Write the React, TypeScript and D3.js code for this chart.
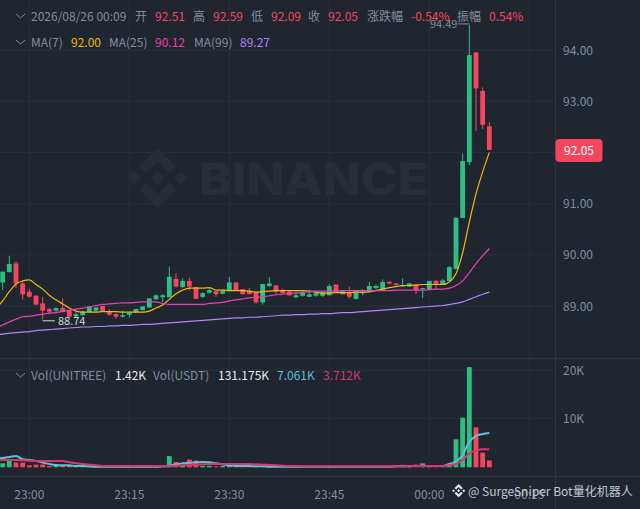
import * as React from 'react'
import * as d3 from 'd3'

const BG = '#1f2630'
const GRID = '#29303a'
const TXT = '#848e9c'
const UP = '#2ebd85'
const DOWN = '#f6465d'
const FONT = '"Noto Sans CJK SC", "Noto Sans", sans-serif'

// one candle per minute, 22:55 (just off the left edge) to 00:09
const opens = [89.30,
  89.46, 89.66, 89.83, 89.44, 89.28, 89.20, 89.05, 88.94, 88.91, 88.96,
  88.92, 88.80, 88.82, 88.88, 88.91, 89.00, 88.89, 88.84, 88.79, 88.83,
  88.88, 88.92, 88.97, 89.13, 89.17, 89.17, 89.53, 89.37, 89.49, 89.37,
  89.18, 89.26, 89.29, 89.24, 89.31, 89.46, 89.33, 89.30, 89.27, 89.07,
  89.39, 89.40, 89.31, 89.28, 89.17, 89.20, 89.18, 89.20, 89.20, 89.21,
  89.42, 89.23, 89.26, 89.14, 89.25, 89.27, 89.35, 89.31, 89.47, 89.44,
  89.38, 89.38, 89.42, 89.33, 89.33, 89.49, 89.42, 89.49, 89.72, 90.72,
  91.81, 93.95, 93.20, 92.51]
const closes = [89.46,
  89.67, 89.82, 89.44, 89.23, 89.18, 89.03, 88.91, 88.89, 88.96, 88.88,
  88.79, 88.84, 88.89, 88.99, 88.97, 88.90, 88.83, 88.79, 88.82, 88.87,
  88.94, 88.99, 89.15, 89.21, 89.21, 89.57, 89.38, 89.49, 89.38, 89.14,
  89.25, 89.31, 89.23, 89.29, 89.46, 89.31, 89.23, 89.23, 89.07, 89.43,
  89.44, 89.28, 89.25, 89.21, 89.21, 89.26, 89.23, 89.25, 89.27, 89.39,
  89.27, 89.29, 89.18, 89.29, 89.28, 89.39, 89.39, 89.47, 89.44, 89.41,
  89.41, 89.44, 89.31, 89.35, 89.49, 89.43, 89.50, 89.76, 90.72, 91.83,
  93.90, 93.25, 92.54, 92.05]
const highs = [89.48,
  89.67, 89.98, 89.87, 89.49, 89.33, 89.21, 89.18, 88.96, 88.97, 89.15,
  88.92, 88.89, 88.91, 89.00, 88.99, 89.00, 88.94, 88.86, 88.91, 88.88,
  88.95, 89.00, 89.15, 89.23, 89.23, 89.77, 89.64, 89.54, 89.55, 89.37,
  89.27, 89.35, 89.29, 89.33, 89.57, 89.46, 89.33, 89.35, 89.28, 89.43,
  89.56, 89.41, 89.34, 89.30, 89.31, 89.30, 89.31, 89.28, 89.29, 89.43,
  89.42, 89.31, 89.38, 89.29, 89.33, 89.47, 89.42, 89.52, 89.49, 89.45,
  89.54, 89.45, 89.43, 89.35, 89.49, 89.51, 89.53, 89.78, 90.74, 91.98,
  94.49, 93.96, 93.27, 92.59]
const lows = [89.25,
  89.31, 89.66, 89.35, 89.13, 89.17, 89.01, 88.74, 88.84, 88.88, 88.88,
  88.76, 88.78, 88.81, 88.87, 88.87, 88.90, 88.81, 88.75, 88.78, 88.78,
  88.88, 88.91, 88.97, 89.12, 89.08, 89.17, 89.35, 89.35, 89.30, 89.14,
  89.16, 89.26, 89.18, 89.23, 89.29, 89.31, 89.23, 89.23, 89.05, 89.03,
  89.37, 89.23, 89.23, 89.20, 89.16, 89.18, 89.18, 89.18, 89.18, 89.21,
  89.27, 89.23, 89.14, 89.12, 89.21, 89.26, 89.33, 89.29, 89.42, 89.40,
  89.37, 89.37, 89.23, 89.16, 89.32, 89.33, 89.41, 89.47, 89.72, 90.72,
  91.75, 92.42, 92.46, 92.05]
const volumes = [700,
  820, 1500, 960, 960, 410, 550, 550, 270, 270, 270,
  270, 150, 180, 150, 120, 200, 150, 120, 120, 100,
  100, 90, 110, 120, 130, 2300, 1100, 270, 1600, 1400,
  300, 300, 200, 300, 400, 300, 250, 180, 250, 350,
  120, 110, 90, 100, 110, 90, 80, 120, 90, 120,
  100, 90, 100, 140, 90, 130, 110, 130, 100, 90,
  500, 100, 550, 800, 300, 240, 180, 600, 5750, 10200,
  20600, 8200, 3000, 1420]
const ma7 = [88.95,
  89.10, 89.28, 89.43, 89.49, 89.51, 89.42, 89.33, 89.21, 89.12, 89.04,
  88.96, 88.90, 88.88, 88.88, 88.88, 88.89, 88.89, 88.89, 88.88, 88.88,
  88.88, 88.88, 88.90, 88.96, 89.02, 89.13, 89.24, 89.31, 89.35, 89.35,
  89.35, 89.36, 89.31, 89.31, 89.30, 89.30, 89.30, 89.29, 89.27, 89.28,
  89.29, 89.30, 89.30, 89.30, 89.30, 89.30, 89.29, 89.27, 89.25, 89.25,
  89.26, 89.26, 89.26, 89.27, 89.27, 89.28, 89.30, 89.33, 89.36, 89.38,
  89.40, 89.40, 89.41, 89.42, 89.42, 89.42, 89.42, 89.47, 89.63, 90.04,
  90.64, 91.19, 91.62, 92.00]
const ma25 = [88.58,
  88.63, 88.69, 88.74, 88.79, 88.80, 88.82, 88.84, 88.86, 88.87, 88.90,
  88.92, 88.94, 88.96, 88.98, 89.01, 89.03, 89.04, 89.05, 89.06, 89.06,
  89.07, 89.08, 89.08, 89.08, 89.05, 89.03, 89.03, 89.03, 89.03, 89.03,
  89.03, 89.05, 89.06, 89.07, 89.10, 89.12, 89.14, 89.16, 89.17, 89.18,
  89.20, 89.22, 89.23, 89.25, 89.25, 89.27, 89.28, 89.29, 89.29, 89.29,
  89.29, 89.30, 89.30, 89.30, 89.30, 89.30, 89.30, 89.30, 89.30, 89.31,
  89.31, 89.31, 89.31, 89.31, 89.32, 89.33, 89.33, 89.35, 89.40, 89.49,
  89.65, 89.83, 89.98, 90.12]
const ma99 = [88.44,
  88.45, 88.47, 88.48, 88.49, 88.50, 88.52, 88.53, 88.54, 88.55, 88.56,
  88.57, 88.58, 88.59, 88.59, 88.60, 88.60, 88.61, 88.61, 88.62, 88.62,
  88.63, 88.64, 88.64, 88.65, 88.66, 88.67, 88.68, 88.69, 88.70, 88.71,
  88.72, 88.73, 88.74, 88.75, 88.76, 88.77, 88.77, 88.78, 88.78, 88.79,
  88.80, 88.81, 88.82, 88.82, 88.83, 88.83, 88.84, 88.84, 88.85, 88.85,
  88.86, 88.87, 88.87, 88.88, 88.89, 88.90, 88.91, 88.92, 88.93, 88.94,
  88.95, 88.96, 88.97, 88.98, 88.99, 89.00, 89.01, 89.03, 89.05, 89.08,
  89.13, 89.18, 89.23, 89.27]
const volShort = [1800,
  1918, 2120, 2330, 1640, 1500, 1300, 960, 685, 480, 410,
  410, 270, 270, 205, 137, 137, 137, 137, 137, 137,
  137, 137, 137, 137, 200, 270, 620, 820, 960, 1030,
  1100, 1030, 820, 620, 410, 270, 270, 270, 205, 205,
  137, 137, 137, 137, 137, 137, 137, 137, 137, 137,
  137, 137, 137, 137, 137, 137, 137, 137, 137, 200,
  240, 240, 270, 270, 270, 270, 270, 685, 1160, 2530,
  5270, 6440, 6850, 7061]
const volLong = [1500,
  1500, 1500, 1500, 1440, 1370, 1300, 1300, 1300, 1300, 1300,
  1030, 820, 685, 550, 410, 270, 270, 270, 270, 270,
  270, 270, 270, 270, 270, 270, 340, 410, 480, 550,
  620, 685, 685, 685, 685, 685, 685, 685, 620, 550,
  480, 410, 340, 270, 270, 240, 205, 205, 205, 205,
  205, 205, 205, 205, 205, 205, 205, 205, 205, 205,
  240, 240, 270, 270, 270, 270, 270, 410, 685, 1500,
  2880, 3425, 3700, 3712]

const priceTicks = [94, 93, 92, 91, 90, 89]
const volTicks = [20000, 10000]
const timeTickIndex = [5, 20, 35, 50, 65, 80]
const timeTickLabels = ['23:00', '23:15', '23:30', '23:45', '00:00', '00:15']

const headerRow = [
  { t: '2026/08/26 00:09', x: 31, c: TXT },
  { t: '开', x: 135, c: TXT },
  { t: '92.51', x: 155, c: DOWN },
  { t: '高', x: 193, c: TXT },
  { t: '92.59', x: 213, c: DOWN },
  { t: '低', x: 251, c: TXT },
  { t: '92.09', x: 271, c: DOWN },
  { t: '收', x: 308, c: TXT },
  { t: '92.05', x: 328, c: DOWN },
  { t: '涨跌幅', x: 367, c: TXT },
  { t: '-0.54%', x: 411, c: DOWN },
  { t: '振幅', x: 457, c: TXT },
  { t: '0.54%', x: 489, c: DOWN },
]
const maRow = [
  { t: 'MA(7)', x: 31, c: TXT },
  { t: '92.00', x: 71, c: '#f0b90b' },
  { t: 'MA(25)', x: 109, c: TXT },
  { t: '90.12', x: 155, c: '#eb40b5' },
  { t: 'MA(99)', x: 194, c: TXT },
  { t: '89.27', x: 240, c: '#b385f8' },
]
const volRow = [
  { t: 'Vol(UNITREE)', x: 31, c: TXT },
  { t: '1.42K', x: 115, c: '#eaecef' },
  { t: 'Vol(USDT)', x: 153, c: TXT },
  { t: '131.175K', x: 218, c: '#eaecef' },
  { t: '7.061K', x: 277, c: '#5bc2d8' },
  { t: '3.712K', x: 323, c: '#d9386e' },
]

const LOGO =
  'M38.73 53.2l24.59-24.58 24.6 24.6 14.3-14.31L63.32 0 24.43 38.9l14.3 14.3zM0 63.31l14.3-14.31 14.31 14.31-14.31 14.3zM38.73 73.41l24.59 24.59 24.6-24.6 14.31 14.29-38.9 38.91-38.91-38.88v-.03zM97.99 63.31l14.3-14.3 14.32 14.3-14.31 14.3zM77.83 63.3L63.32 48.78 52.59 59.51l-1.24 1.23-2.54 2.54 14.51 14.5 14.51-14.47z'

const x = d3.scaleLinear().domain([0, 74]).range([-4, 489.33])
const y = d3.scaleLinear().domain([94, 89]).range([50, 306])
const yVol = d3.scaleLinear().domain([0, 20000]).range([467.3, 370])

function Row({ items, top }: { items: { t: string; x: number; c: string }[]; top: number }) {
  return (
    <g fontSize={12} dominantBaseline="central">
      <path d={`M16 ${top - 2}l4.5 4l4.5 -4`} fill="none" stroke={TXT} strokeWidth={1} />
      {items.map((d) => (
        <text key={d.t + d.x} x={d.x} y={top - 1} fill={d.c}>
          {d.t}
        </text>
      ))}
    </g>
  )
}

export default function App() {
  const idx = d3.range(opens.length)
  const priceLine = d3
    .line<number>()
    .x((_, i) => x(i))
    .y((d) => y(d))
    .curve(d3.curveMonotoneX)
  const volLine = d3
    .line<number>()
    .x((_, i) => x(i))
    .y((d) => yVol(d))
    .curve(d3.curveMonotoneX)
  const bodyW = 4.8

  return (
    <svg
      width={640}
      height={509}
      viewBox="0 0 640 509"
      style={{ position: 'absolute', left: 0, top: 0, background: BG }}
      fontFamily={FONT}
    >
      {/* grid */}
      {timeTickIndex.map((t) => (
        <line key={t} x1={x(t)} x2={x(t)} y1={0} y2={476} stroke={GRID} strokeWidth={1} />
      ))}
      {priceTicks.map((p) => (
        <line key={p} x1={0} x2={555} y1={y(p)} y2={y(p)} stroke={GRID} />
      ))}
      {volTicks.map((v) => (
        <line key={v} x1={0} x2={555} y1={yVol(v)} y2={yVol(v)} stroke={GRID} />
      ))}
      <line x1={0} x2={640} y1={358.5} y2={358.5} stroke="#2f3640" />
      <line x1={0} x2={640} y1={476.5} y2={476.5} stroke="#2f3640" />
      <line x1={555.5} x2={555.5} y1={0} y2={509} stroke="#2f3640" />

      {/* watermark */}
      <g fill="#282e38">
        <path d={LOGO} transform="translate(127.5,148) scale(0.475)" />
        <text x={199} y={195} fontFamily="Inter, Roboto, sans-serif" fontWeight={800} fontSize={44} textLength={229} lengthAdjust="spacingAndGlyphs">
          BINANCE
        </text>
      </g>

      {/* volume */}
      {idx.map((i) => (
        <rect
          key={i}
          x={x(i) - bodyW / 2}
          width={bodyW}
          y={yVol(volumes[i])}
          height={yVol(0) - yVol(volumes[i])}
          fill={closes[i] >= opens[i] ? UP : DOWN}
        />
      ))}
      <path d={volLine(volShort) ?? ''} fill="none" stroke="#5bc2d8" strokeWidth={2} />
      <path d={volLine(volLong) ?? ''} fill="none" stroke="#d9386e" strokeWidth={2} />

      {/* candles */}
      {idx.map((i) => {
        const up = closes[i] >= opens[i]
        const color = up ? UP : DOWN
        const top = y(Math.max(opens[i], closes[i]))
        const bot = y(Math.min(opens[i], closes[i]))
        return (
          <g key={i}>
            <line x1={x(i)} x2={x(i)} y1={y(highs[i])} y2={y(lows[i])} stroke={color} strokeWidth={1} />
            <rect x={x(i) - bodyW / 2} width={bodyW} y={top} height={Math.max(bot - top, 1)} fill={color} />
          </g>
        )
      })}

      {/* moving averages */}
      <path d={priceLine(ma7) ?? ''} fill="none" stroke="#f0b90b" strokeWidth={1.2} />
      <path d={priceLine(ma25) ?? ''} fill="none" stroke="#eb40b5" strokeWidth={1.2} />
      <path d={priceLine(ma99) ?? ''} fill="none" stroke="#b385f8" strokeWidth={1.2} />

      {/* high / low markers */}
      <line x1={458} x2={x(71)} y1={y(94.49) - 1} y2={y(94.49) - 1} stroke={TXT} />
      <text x={430} y={y(94.49) - 2} fontSize={11} fill={TXT} dominantBaseline="central">
        94.49
      </text>
      <line x1={x(7)} x2={55} y1={y(88.74) + 1.5} y2={y(88.74) + 1.5} stroke="#d5d8dc" />
      <text x={58} y={y(88.74) + 1} fontSize={11} fill="#d5d8dc" dominantBaseline="central">
        88.74
      </text>

      {/* legends */}
      <Row items={headerRow} top={16} />
      <Row items={maRow} top={42} />
      <Row items={volRow} top={375} />

      {/* axes */}
      <g fontSize={12} fill={TXT} dominantBaseline="central">
        {priceTicks.map((p) => (
          <text key={p} x={563} y={y(p) - 1}>
            {d3.format('.2f')(p)}
          </text>
        ))}
        {volTicks.map((v) => (
          <text key={v} x={563} y={yVol(v) - 1}>
            {d3.format('~s')(v).replace('k', 'K')}
          </text>
        ))}
        {timeTickIndex.map((t, i) => (
          <text key={t} x={x(t)} y={493.5} textAnchor="middle">
            {timeTickLabels[i]}
          </text>
        ))}
      </g>

      {/* last price tag */}
      <rect x={555.5} y={139} width={47} height={23} rx={4} fill={DOWN} />
      <text x={579} y={149.5} fontSize={12} fill="#fff" textAnchor="middle" dominantBaseline="central">
        92.05
      </text>

      {/* share mark */}
      <path d={LOGO} transform="translate(452,484) scale(0.105)" fill="#e6e8ea" />
      <text x={468} y={490} fontSize={12} fill="#d5d8dc" dominantBaseline="central" opacity={0.92}>
        @ SurgeSniper Bot量化机器人
      </text>
    </svg>
  )
}
